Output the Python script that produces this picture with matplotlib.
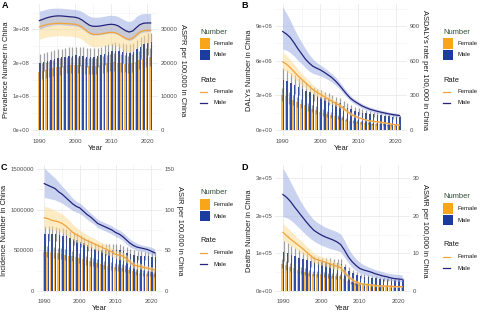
import numpy as np
import matplotlib
matplotlib.use("Agg")
import matplotlib.pyplot as plt
from matplotlib.patches import Rectangle
from matplotlib.lines import Line2D
from matplotlib.ticker import MultipleLocator, FixedLocator

plt.rcParams['font.family'] = ['Liberation Sans', 'DejaVu Sans']

years = np.arange(1990, 2022)

# ---- A: prevalence (numbers in 1e8, rate per 100,000) ----
female_A = [1.72,1.76,1.79,1.82,1.85,1.87,1.89,1.91,1.93,1.94,1.95,1.94,1.93,1.91,1.90,1.90,1.91,1.93,1.96,1.99,2.01,2.02,2.01,1.99,1.97,1.96,1.99,2.04,2.09,2.13,2.16,2.18]
female_A_hi = [1.97,2.01,2.04,2.07,2.10,2.12,2.14,2.16,2.18,2.19,2.20,2.19,2.18,2.16,2.15,2.15,2.16,2.18,2.21,2.24,2.27,2.28,2.27,2.25,2.23,2.22,2.25,2.30,2.36,2.40,2.43,2.45]
female_A_lo = [1.50,1.53,1.56,1.59,1.61,1.63,1.65,1.67,1.69,1.70,1.71,1.70,1.69,1.67,1.66,1.66,1.67,1.69,1.71,1.74,1.76,1.77,1.76,1.74,1.72,1.71,1.74,1.78,1.83,1.86,1.89,1.91]
male_A = [2.00,2.04,2.07,2.10,2.12,2.15,2.17,2.19,2.21,2.22,2.23,2.22,2.21,2.19,2.18,2.18,2.20,2.23,2.27,2.31,2.34,2.35,2.34,2.32,2.30,2.29,2.33,2.40,2.48,2.55,2.60,2.62]
male_A_hi = [2.25,2.29,2.32,2.35,2.37,2.40,2.42,2.44,2.46,2.47,2.48,2.47,2.46,2.44,2.43,2.43,2.45,2.48,2.53,2.57,2.60,2.61,2.60,2.58,2.56,2.55,2.59,2.67,2.76,2.83,2.88,2.90]
male_A_lo = [1.72,1.75,1.78,1.80,1.82,1.85,1.87,1.89,1.90,1.91,1.92,1.91,1.90,1.88,1.87,1.87,1.89,1.92,1.95,1.99,2.01,2.02,2.01,1.99,1.97,1.96,2.00,2.06,2.13,2.19,2.23,2.25]
female_rate_A = [30700,31100,31400,31600,31700,31800,31800,31700,31700,31600,31500,31200,30600,29700,28900,28500,28500,28600,28800,29000,29100,29000,28600,27900,27300,27000,27400,28300,29200,29600,29700,29700]
female_rate_A_hi = [33000,33400,33700,33900,34000,34100,34100,34000,34000,33900,33800,33500,32900,32000,31200,30800,30800,30900,31100,31300,31400,31300,30900,30200,29600,29300,29700,30600,31500,31900,32000,32000]
female_rate_A_lo = [27000,27400,27700,27900,28000,28100,28100,28000,28000,27900,27800,27500,26900,26000,25200,24800,24800,24900,25100,25300,25400,25300,24900,24200,23600,23300,23700,24600,25500,25900,26000,26000]
male_rate_A = [32600,33000,33400,33700,33900,34000,34000,33900,33800,33700,33600,33300,32700,31900,31200,30900,30900,31000,31200,31400,31500,31400,31000,30300,29600,29200,29500,30500,31400,31800,31900,31900]
male_rate_A_hi = [35400,35700,36000,36200,36300,36300,36300,36200,36100,36000,35900,35700,35200,34500,33900,33600,33600,33700,33900,34100,34200,34100,33800,33200,32600,32300,32700,33800,34500,34700,34700,34700]
male_rate_A_lo = [30000,30400,30800,31100,31300,31400,31400,31300,31200,31100,31000,30700,30100,29300,28600,28300,28300,28400,28600,28800,28900,28800,28400,27700,27000,26700,27000,27900,28800,29200,29300,29300]

# ---- B: DALYs (numbers in 1e6) ----
female_B = [3.03,2.90,2.75,2.58,2.42,2.27,2.12,1.98,1.84,1.72,1.60,1.50,1.40,1.30,1.21,1.12,1.00,0.90,0.82,0.76,0.72,0.66,0.61,0.57,0.54,0.52,0.50,0.48,0.46,0.45,0.44,0.43]
female_B_hi = [3.60,3.45,3.27,3.07,2.88,2.70,2.52,2.36,2.19,2.05,1.91,1.79,1.67,1.55,1.44,1.33,1.19,1.07,0.98,0.90,0.85,0.78,0.72,0.67,0.64,0.61,0.59,0.57,0.54,0.53,0.52,0.51]
female_B_lo = [2.50,2.40,2.28,2.14,2.00,1.88,1.75,1.64,1.52,1.42,1.32,1.24,1.16,1.08,1.00,0.93,0.83,0.75,0.68,0.63,0.60,0.55,0.51,0.48,0.45,0.43,0.42,0.40,0.38,0.37,0.36,0.35]
male_B = [4.33,4.20,4.05,3.90,3.72,3.55,3.40,3.25,3.10,2.98,2.88,2.78,2.65,2.52,2.40,2.30,2.10,1.92,1.78,1.68,1.59,1.50,1.45,1.40,1.35,1.30,1.26,1.22,1.18,1.15,1.12,1.10]
male_B_hi = [5.35,5.15,4.95,4.75,4.52,4.30,4.10,3.92,3.73,3.58,3.45,3.33,3.18,3.03,2.88,2.75,2.52,2.30,2.13,2.00,1.89,1.78,1.72,1.66,1.60,1.54,1.49,1.44,1.39,1.35,1.32,1.29]
male_B_lo = [3.40,3.32,3.22,3.12,3.00,2.87,2.76,2.64,2.52,2.43,2.35,2.27,2.16,2.05,1.96,1.88,1.72,1.57,1.46,1.38,1.31,1.24,1.20,1.16,1.12,1.08,1.05,1.02,0.98,0.96,0.93,0.91]
female_rate_B = [590,570,540,505,470,440,410,380,350,328,309,290,270,250,232,216,190,165,140,122,110,98,88,80,75,72,68,63,57,51,46,43]
female_rate_B_hi = [670,645,610,570,530,492,458,425,392,365,342,322,300,278,257,238,210,183,157,137,124,110,99,90,84,80,76,70,64,58,54,50]
female_rate_B_lo = [525,505,480,450,420,393,365,338,312,292,276,260,242,224,208,195,170,148,126,110,98,87,78,71,66,64,60,56,50,45,40,37]
male_rate_B = [852,830,800,755,705,660,615,580,552,535,520,500,478,455,425,390,350,310,275,250,230,210,195,182,172,163,155,148,141,135,130,125]
male_rate_B_hi = [1065,1010,950,880,815,760,705,655,615,585,562,540,515,490,460,420,380,335,298,270,250,230,214,200,190,180,172,165,157,150,145,140]
male_rate_B_lo = [700,690,670,640,605,575,540,510,490,480,470,455,437,415,390,360,322,285,252,228,210,190,176,164,155,147,139,133,126,120,115,110]

# ---- C: incidence (numbers in 1e3) ----
female_C = [484,480,476,470,462,455,445,435,425,412,400,390,378,365,352,340,330,320,312,305,300,292,283,272,258,245,235,226,220,215,211,208]
female_C_hi = [560,556,550,543,534,525,514,502,490,476,462,450,436,421,406,392,380,369,360,352,346,337,327,314,298,283,272,262,255,249,245,241]
female_C_lo = [415,412,408,403,396,390,382,373,364,353,343,334,324,313,302,291,283,274,267,261,257,250,242,233,221,210,201,194,188,184,181,178]
male_C = [705,705,700,695,690,680,670,655,640,625,608,585,560,535,515,505,502,505,508,510,510,505,490,470,450,438,432,430,428,426,424,422]
male_C_hi = [800,800,795,788,780,770,758,742,725,708,690,665,638,610,588,576,572,575,578,580,580,575,558,535,512,498,490,487,484,481,478,475]
male_C_lo = [620,620,615,610,605,597,588,575,562,550,535,515,492,470,453,444,441,444,447,449,449,444,431,413,395,385,380,378,376,374,372,370]
female_rate_C = [90,89,87,86,85,83,80,76,72,69,67,64,62,60,58,56,54,52,50,48,45,44,43,40,36,32,31,30,29,28,27,26]
female_rate_C_hi = [104,103,101,99,97,95,91,87,82,78,75,72,69,67,65,62,60,58,56,53,50,49,48,45,40,36,35,34,32,31,30,29]
female_rate_C_lo = [78,77,76,75,74,72,70,66,63,60,59,57,55,53,51,50,48,46,44,42,40,39,38,35,32,28,27,27,26,25,24,23]
male_rate_C = [132,130,128,126,122,119,115,111,107,104,102,98,94,91,87,83,81,79,77,75,72,70,67,63,59,56,54,53,52,51,49,47]
male_rate_C_hi = [151,147,143,139,134,129,124,119,114,110,108,104,100,96,92,88,86,84,82,80,77,75,72,68,64,61,59,57,56,55,54,52]
male_rate_C_lo = [115,114,113,112,110,108,105,102,99,97,95,92,88,85,82,78,76,74,72,70,67,65,62,58,54,52,50,49,48,47,45,44]

# ---- D: deaths (numbers in 1e3) ----
female_D = [72,68,64,60,57,54,51,48,46,45,44,43,42,41,40,39,33,27,23,21,19,18,17,16,15,14.5,14,13.5,13,12.5,12,12]
female_D_hi = [85,80,75,71,67,63,60,57,54,52,51,50,49,48,47,46,39,32,27,24,22,21,20,19,18,17,16,15.5,15,14.5,14,14]
female_D_lo = [60,57,54,51,48,46,43,41,39,38,37,36,35,34,33,32,27,22,19,17,16,15,14,13,12.5,12,11.5,11,10.8,10.4,10,10]
male_D = [105,101,97,93,89,86,83,80,78,77,76,75,75,74,74,73,63,54,47,43,40,38,36,35,34,33,32,31,31,30,30,30]
male_D_hi = [133,127,121,115,110,105,100,96,93,91,89,88,87,86,85,84,73,63,55,50,46,44,42,40,39,38,37,36,35,34,34,34]
male_D_lo = [80,78,76,74,71,69,67,65,64,63,63,62,62,62,62,61,53,45,39,36,34,32,30,29,28,28,27,26,26,25,25,25]
female_rate_D = [15.6,14.7,13.8,13.0,12.2,11.4,10.5,9.6,8.7,8.3,8.0,7.7,7.3,6.9,6.6,6.2,5.0,3.8,3.0,2.4,2.0,1.8,1.7,1.6,1.5,1.4,1.35,1.3,1.25,1.2,1.18,1.15]
female_rate_D_hi = [18.0,17.0,16.0,15.0,14.0,13.1,12.1,11.1,10.1,9.6,9.2,8.8,8.4,8.0,7.6,7.2,5.9,4.5,3.6,2.9,2.5,2.2,2.1,2.0,1.8,1.7,1.65,1.6,1.55,1.5,1.45,1.4]
female_rate_D_lo = [13.6,12.9,12.1,11.4,10.7,10.0,9.2,8.4,7.6,7.2,6.9,6.6,6.3,6.0,5.7,5.3,4.2,3.2,2.5,2.0,1.6,1.5,1.4,1.3,1.2,1.15,1.1,1.05,1.0,0.98,0.95,0.92]
male_rate_D = [25.7,24.9,23.8,22.4,21.1,19.8,18.5,17.3,16.2,15.5,14.9,14.4,14.0,13.6,13.1,12.4,10.9,9.1,7.8,6.8,6.0,5.6,5.3,5.0,4.6,4.3,4.0,3.8,3.5,3.3,3.2,3.1]
male_rate_D_hi = [32.7,31.0,29.0,27.0,25.0,23.2,21.6,20.2,19.0,18.2,17.6,17.0,16.6,16.2,15.8,15.2,13.5,11.4,9.8,8.6,7.6,7.0,6.5,6.1,5.7,5.4,5.1,4.8,4.6,4.5,4.4,4.3]
male_rate_D_lo = [19.8,19.5,18.9,18.0,17.0,16.0,15.0,14.1,13.3,12.7,12.2,11.8,11.4,11.1,10.8,10.4,9.0,7.5,6.3,5.4,4.8,4.4,4.1,3.9,3.6,3.4,3.1,2.9,2.8,2.7,2.6,2.5]

ORANGE = '#F9A51A'
BLUE = '#1B3C9E'
RATE_F = '#F2A23A'
RATE_M = '#25237A'
TXT = '#4D4D4D'

W, H = 480, 315
fig = plt.figure(figsize=(W / 100, H / 100), dpi=100)


def px(l, t, r, b):
    return [l / W, 1 - b / H, (r - l) / W, (b - t) / H]


def panel(box, unit, nums, rates, ylim, yticks, ylabels, rticks, lab_l, lab_r, letter, letter_xy, leg):
    f, f_hi, f_lo, m, m_hi, m_lo = [np.array(v) * unit for v in nums]
    fr, fr_hi, fr_lo, mr, mr_hi, mr_lo = rates
    ax = fig.add_axes(px(*box))
    ax.set_xlim(1987.95, 2023.05)
    ax.set_ylim(*ylim)
    w = 0.4
    ax.bar(years - w / 2, f, w, color=ORANGE, alpha=0.75, lw=0, zorder=2)
    ax.bar(years + w / 2, m, w, color=BLUE, alpha=0.9, lw=0, zorder=2)
    ax.vlines(years - w / 2, f_lo, f_hi, color='#555555', alpha=0.55, lw=0.9, zorder=3)
    ax.vlines(years + w / 2, m_lo, m_hi, color='#555555', alpha=0.55, lw=0.9, zorder=3)

    ax.xaxis.set_major_locator(FixedLocator([1990, 2000, 2010, 2020]))
    ax.xaxis.set_minor_locator(FixedLocator([1995, 2005, 2015]))
    ax.yaxis.set_major_locator(FixedLocator(yticks))
    step = yticks[1] - yticks[0]
    ax.yaxis.set_minor_locator(MultipleLocator(step / 2))
    ax.set_yticklabels(ylabels)
    ax.grid(which='major', color='#E6E6E6', lw=0.5)
    ax.grid(which='minor', color='#F2F2F2', lw=0.4)
    ax.set_axisbelow(True)
    for s in ax.spines.values():
        s.set_visible(False)
    ax.tick_params(which='both', length=0, labelsize=4.3, labelcolor=TXT, pad=2)
    ax.set_xlabel('Year', fontsize=5.4, color='#1A1A1A', labelpad=1)
    ax.set_ylabel(lab_l, fontsize=5.4, color='#1A1A1A', labelpad=2)

    scale = 1e4
    ax2 = ax.twinx()
    ax2.set_ylim(ylim[0] / scale, ylim[1] / scale)
    ax2.fill_between(years, fr_lo, fr_hi, color='#FCDB95', alpha=0.55, lw=0, zorder=3)
    ax2.fill_between(years, mr_lo, mr_hi, color='#9DB0E4', alpha=0.55, lw=0, zorder=3)
    ax2.plot(years, fr, color=RATE_F, lw=0.9, zorder=4)
    ax2.plot(years, mr, color=RATE_M, lw=0.9, zorder=4)
    ax2.yaxis.set_major_locator(FixedLocator(rticks))
    ax2.set_yticklabels([str(t) for t in rticks])
    for s in ax2.spines.values():
        s.set_visible(False)
    ax2.tick_params(length=0, labelsize=4.3, labelcolor=TXT, pad=2)
    ax2.set_ylabel(lab_r, fontsize=5.4, color='#1A1A1A', rotation=-90, labelpad=6)

    fig.text(letter_xy[0] / W, 1 - letter_xy[1] / H, letter, fontsize=6.5,
             fontweight='bold', va='center', ha='left')

    # legend
    x, y = leg
    fig.text(x / W, 1 - y / H, 'Number', fontsize=5.4, color='#2E4A36', va='center')
    for i, (name, col) in enumerate([('Female', ORANGE), ('Male', BLUE)]):
        top = y + 6 + i * 11.5
        fig.add_artist(Rectangle((x / W, 1 - (top + 10.5) / H), 10 / W, 10.5 / H,
                                 transform=fig.transFigure, color=col, lw=0))
        fig.text((x + 14) / W, 1 - (top + 5.5) / H, name, fontsize=4.3, color='#1A1A1A', va='center')
    fig.text(x / W, 1 - (y + 48) / H, 'Rate', fontsize=5.4, color='#1A1A1A', va='center')
    for i, (name, col) in enumerate([('Female', RATE_F), ('Male', RATE_M)]):
        yy = y + 59.5 + i * 11.5
        fig.add_artist(Line2D([x / W, (x + 7) / W], [1 - yy / H, 1 - yy / H],
                              transform=fig.transFigure, color=col, lw=0.9))
        fig.text((x + 14) / W, 1 - yy / H, name, fontsize=4.3, color='#1A1A1A', va='center')
    return ax


axA = panel((32, 4, 158, 136), 1e8,
            [female_A, female_A_hi, female_A_lo, male_A, male_A_hi, male_A_lo],
            [female_rate_A, female_rate_A_hi, female_rate_A_lo, male_rate_A, male_rate_A_hi, male_rate_A_lo],
            (-0.179e8, 3.755e8), [0, 1e8, 2e8, 3e8], ['0e+00', '1e+08', '2e+08', '3e+08'],
            [0, 10000, 20000, 30000], 'Prevalence Number in China', 'ASPR per 100,000 in China',
            'A', (2, 5), (200, 32))
axB = panel((275, 4, 407, 136), 1e6,
            [female_B, female_B_hi, female_B_lo, male_B, male_B_hi, male_B_lo],
            [female_rate_B, female_rate_B_hi, female_rate_B_lo, male_rate_B, male_rate_B_hi, male_rate_B_lo],
            (-0.519e6, 10.9e6), [0, 3e6, 6e6, 9e6], ['0e+00', '3e+06', '6e+06', '9e+06'],
            [0, 300, 600, 900], "DALYs Number in China", "ASDALYs rate per 100,000 in China",
            'B', (241, 5), (443, 32))
axC = panel((37, 165, 162, 296), 1e3,
            [female_C, female_C_hi, female_C_lo, male_C, male_C_hi, male_C_lo],
            [female_rate_C, female_rate_C_hi, female_rate_C_lo, male_rate_C, male_rate_C_hi, male_rate_C_lo],
            (-0.0615e6, 1.549e6), [0, 500000, 1000000, 1500000], ['0', '500000', '1000000', '1500000'],
            [0, 50, 100, 150], 'Incidence Number in China', 'ASIR per 100,000 in China',
            'C', (1, 167), (200, 193))
axD = panel((275, 165, 410, 296), 1e3,
            [female_D, female_D_hi, female_D_lo, male_D, male_D_hi, male_D_lo],
            [female_rate_D, female_rate_D_hi, female_rate_D_lo, male_rate_D, male_rate_D_hi, male_rate_D_lo],
            (-0.133e5, 3.354e5), [0, 1e5, 2e5, 3e5], ['0e+00', '1e+05', '2e+05', '3e+05'],
            [0, 10, 20, 30], 'Deaths Number in China', 'ASMR per 100,000 in China',
            'D', (241, 167), (443, 197))

fig.savefig('out.png', dpi=100)
